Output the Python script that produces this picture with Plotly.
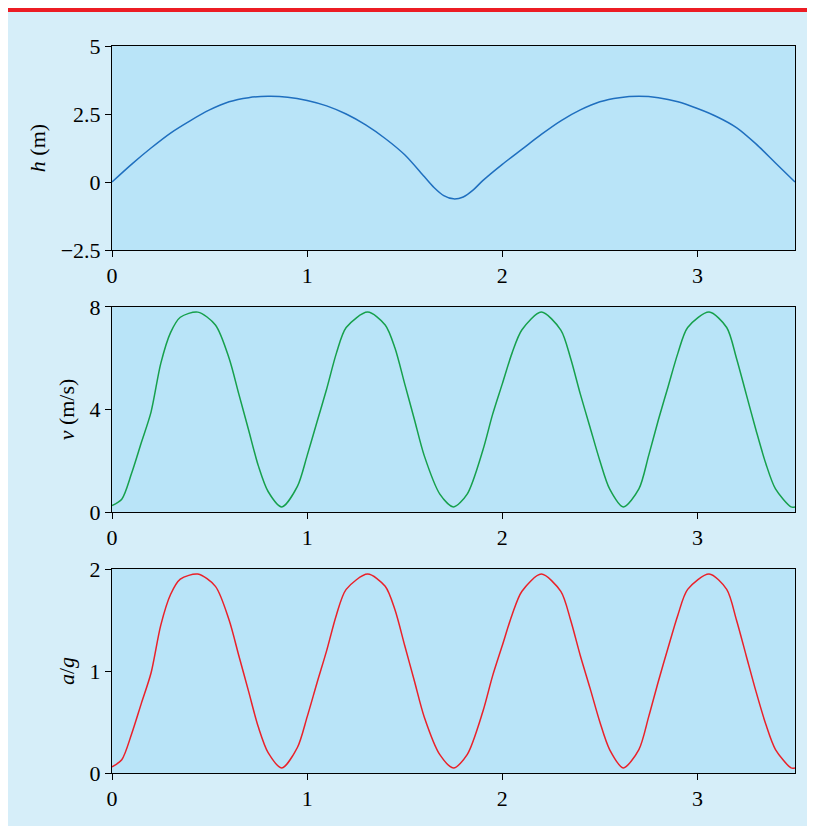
import plotly.graph_objects as go
from plotly.subplots import make_subplots

t_h = [0, 0.1, 0.2, 0.3, 0.4, 0.5, 0.6, 0.7, 0.8, 0.9, 1.0, 1.1, 1.2, 1.3, 1.4, 1.5, 1.6, 1.65, 1.7, 1.75,
       1.8, 1.85, 1.9, 2.0, 2.1, 2.2, 2.3, 2.4, 2.5, 2.6, 2.7, 2.8, 2.9, 3.0, 3.1, 3.2, 3.3, 3.4, 3.5]
h = [0, 0.65, 1.25, 1.8, 2.25, 2.65, 2.95, 3.1, 3.15, 3.12, 3.0, 2.8, 2.5, 2.1, 1.6, 1.0, 0.2, -0.2, -0.5, -0.62,
     -0.55, -0.3, 0.05, 0.65, 1.2, 1.75, 2.25, 2.65, 2.95, 3.1, 3.15, 3.1, 2.95, 2.7, 2.4, 2.0, 1.4, 0.7, 0.0]

t_v = [0, 0.05, 0.1, 0.15, 0.2, 0.25, 0.3, 0.35, 0.44, 0.53, 0.6, 0.65, 0.7, 0.75, 0.8, 0.87,
       0.95, 1.0, 1.05, 1.1, 1.15, 1.2, 1.31, 1.4, 1.45, 1.5, 1.55, 1.6, 1.68, 1.75,
       1.82, 1.9, 1.95, 2.0, 2.05, 2.1, 2.2, 2.3, 2.35, 2.4, 2.45, 2.5, 2.55, 2.62,
       2.7, 2.75, 2.8, 2.85, 2.9, 2.95, 3.06, 3.15, 3.2, 3.25, 3.3, 3.35, 3.4, 3.48, 3.5]
v = [0.25, 0.5, 1.5, 2.7, 3.9, 5.8, 7.0, 7.6, 7.8, 7.3, 6.0, 4.6, 3.2, 1.8, 0.8, 0.2,
     1.0, 2.2, 3.5, 4.8, 6.2, 7.2, 7.8, 7.3, 6.4, 5.0, 3.6, 2.2, 0.7, 0.2,
     0.7, 2.4, 3.8, 5.0, 6.2, 7.1, 7.8, 7.1, 6.0, 4.6, 3.3, 2.0, 0.9, 0.2,
     0.9, 2.2, 3.6, 4.9, 6.2, 7.2, 7.8, 7.2, 6.0, 4.6, 3.2, 1.9, 0.9, 0.2, 0.2]
a = [0.06, 0.13, 0.38, 0.68, 0.98, 1.45, 1.75, 1.9, 1.95, 1.83, 1.5, 1.15, 0.8, 0.45, 0.2, 0.05,
     0.25, 0.55, 0.88, 1.2, 1.55, 1.8, 1.95, 1.83, 1.6, 1.25, 0.9, 0.55, 0.18, 0.05,
     0.18, 0.6, 0.95, 1.25, 1.55, 1.78, 1.95, 1.78, 1.5, 1.15, 0.83, 0.5, 0.23, 0.05,
     0.23, 0.55, 0.9, 1.23, 1.55, 1.8, 1.95, 1.8, 1.5, 1.15, 0.8, 0.48, 0.23, 0.05, 0.05]

fig = make_subplots(rows=3, cols=1)
fig.add_trace(go.Scatter(x=t_h, y=h, mode="lines", line=dict(color="#1f6fbf", width=1.5, shape="spline", smoothing=0.8)), row=1, col=1)
fig.add_trace(go.Scatter(x=t_v, y=v, mode="lines", line=dict(color="#16a04c", width=1.5, shape="spline", smoothing=0.8)), row=2, col=1)
fig.add_trace(go.Scatter(x=t_v, y=a, mode="lines", line=dict(color="#ea2129", width=1.5, shape="spline", smoothing=0.8)), row=3, col=1)

axis_style = dict(showline=True, mirror=True, linecolor="black", linewidth=1, ticks="outside",
                  ticklen=6, tickcolor="black", showgrid=False, zeroline=False,
                  tickfont=dict(size=22, color="black"))
for i, dom in zip([1, 2, 3], [[0.7194, 1], [0.359, 0.641], [0, 0.2806]]):
    fig.update_xaxes(axis_style, range=[0, 3.5], tickvals=[0, 1, 2, 3], row=i, col=1)
    fig.update_yaxes(axis_style, domain=dom, row=i, col=1)

fig.update_yaxes(range=[-2.5, 5], tickvals=[-2.5, 0, 2.5, 5], title_text="<i>h</i> (m)", row=1, col=1)
fig.update_yaxes(range=[0, 8], tickvals=[0, 4, 8], title_text="<i>v</i> (m/s)", row=2, col=1)
fig.update_yaxes(range=[0, 2], tickvals=[0, 1, 2], title_text="<i>a</i>/<i>g</i>", row=3, col=1)
fig.update_yaxes(title_font=dict(size=22, color="black"), title_standoff=8)

fig.add_shape(type="rect", xref="paper", yref="paper", x0=-0.2, x1=1.05, y0=1.0468, y1=1.06,
              fillcolor="#ec1c24", line=dict(width=0))

fig.update_layout(width=815, height=826, showlegend=False,
                  margin=dict(l=104, r=28, t=38, b=61),
                  paper_bgcolor="#d6eef9", plot_bgcolor="#b9e4f8",
                  font=dict(family="'Times New Roman', 'Liberation Serif', Tinos, serif", color="black"))
fig.write_html("out.html")
